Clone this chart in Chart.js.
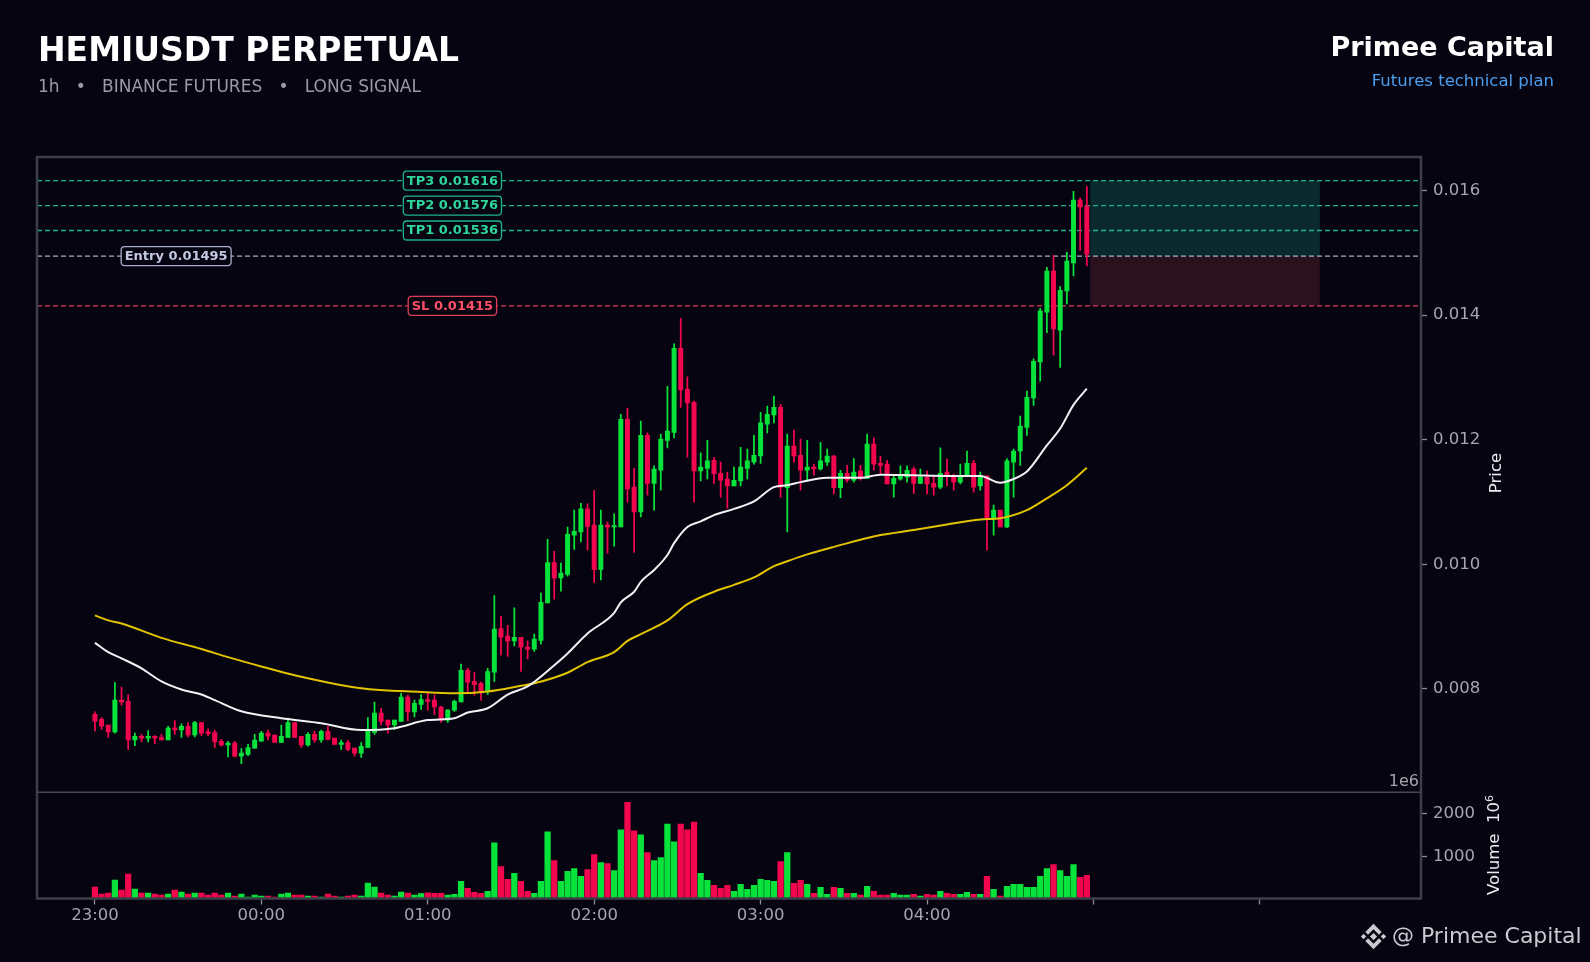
<!DOCTYPE html>
<html>
<head>
<meta charset="utf-8">
<script src="https://cdn.jsdelivr.net/npm/chart.js@4.4.1/dist/chart.umd.min.js"></script>
<style>
  body { margin: 0; background: #050410; }
  #wrap { position: relative; width: 1590px; height: 962px; overflow: hidden; font-family: 'DejaVu Sans', sans-serif; }
  #chart { position: absolute; left: 0; top: 0; }
  .txt { position: absolute; white-space: pre; }
</style>
</head>
<body>
<div id="wrap">
  <canvas id="chart" width="1590" height="962"></canvas>
  <div class="txt" style="left:38px;top:33px;font:bold 33px/33px 'DejaVu Sans';color:#ffffff">HEMIUSDT PERPETUAL</div>
  <div class="txt" style="left:38px;top:78px;font:17px/17px 'DejaVu Sans';color:#9b9ba5">1h   •   BINANCE FUTURES   •   LONG SIGNAL</div>
  <div class="txt" style="right:36px;top:33px;font:bold 27px/27px 'DejaVu Sans';color:#ffffff">Primee Capital</div>
  <div class="txt" style="right:36px;top:73px;font:16.5px/16.5px 'DejaVu Sans';color:#4c9eee">Futures technical plan</div>
  <div class="txt" style="left:1495px;top:473px;transform:translate(-50%,-50%) rotate(-90deg);font:16.5px 'DejaVu Sans';color:#ececf0">Price</div>
  <div class="txt" style="left:1493px;top:845px;transform:translate(-50%,-50%) rotate(-90deg);font:16.5px 'DejaVu Sans';color:#ececf0">Volume  10<sup style="font-size:11px">6</sup></div>
  <div class="txt" style="right:171px;top:773px;font:16px/16px 'DejaVu Sans';color:#a6a6ae">1e6</div>
  <svg style="position:absolute;left:1359px;top:922px" width="29" height="29" viewBox="0 0 32 32">
    <g fill="#c9c9d0">
      <path d="M16 2 L25 11 L22 14 L16 8 L10 14 L7 11 Z"/>
      <path d="M16 30 L7 21 L10 18 L16 24 L22 18 L25 21 Z"/>
      <path d="M16 12 L20 16 L16 20 L12 16 Z"/>
      <path d="M5 13 L8 16 L5 19 L2 16 Z"/>
      <path d="M27 13 L30 16 L27 19 L24 16 Z"/>
    </g>
  </svg>
  <div class="txt" style="left:1392px;top:925px;font:22px/22px 'DejaVu Sans';color:#c9c9d0">@ Primee Capital</div>
</div>
<script>
// candles, 25 per hour, first one at 23:00
const hourLabels = ['23:00', '00:00', '01:00', '02:00', '03:00', '04:00', '', ''];
const hourTicks = [0, 25, 50, 75, 100, 125, 150, 175];
const priceTicks = [0.008, 0.010, 0.012, 0.014, 0.016];
const volumeTicks = [1000, 2000];

const opens = [0.00759,0.00751,0.00742,0.00731,0.00782,0.00780,0.00718,0.00724,0.00721,0.00724,
 0.00722,0.00718,0.00737,0.00734,0.00740,0.00726,0.00746,0.00731,0.00730,0.00716,
 0.00710,0.00713,0.00692,0.00695,0.00705,0.00716,0.00729,0.00726,0.00714,0.00722,
 0.00746,0.00724,0.00710,0.00727,0.00718,0.00732,0.00721,0.00711,0.00714,0.00705,
 0.00697,0.00706,0.00730,0.00761,0.00750,0.00742,0.00748,0.00787,0.00763,0.00775,
 0.00783,0.00782,0.00771,0.00750,0.00766,0.00779,0.00830,0.00812,0.00809,0.00795,
 0.00827,0.00897,0.00885,0.00877,0.00883,0.00867,0.00864,0.00878,0.00938,0.01003,
 0.00978,0.00984,0.01047,0.01052,0.01089,0.01063,0.00992,0.01063,0.01060,0.01060,
 0.01233,0.01124,0.01084,0.01207,0.01130,0.01151,0.01199,0.01212,0.01347,0.01281,
 0.01260,0.01150,0.01154,0.01167,0.01146,0.01137,0.01126,0.01134,0.01154,0.01164,
 0.01174,0.01225,0.01240,0.01252,0.01123,0.01190,0.01175,0.01151,0.01156,0.01153,
 0.01164,0.01174,0.01123,0.01146,0.01135,0.01150,0.01138,0.01193,0.01162,0.01161,
 0.01129,0.01137,0.01140,0.01153,0.01130,0.01140,0.01130,0.01124,0.01148,0.01142,
 0.01132,0.01142,0.01162,0.01126,0.01142,0.01075,0.01087,0.01060,0.01164,0.01182,
 0.01220,0.01267,0.01325,0.01405,0.01471,0.01376,0.01439,0.01484,0.01585,0.01575];

const highs = [0.00763,0.00754,0.00742,0.00810,0.00803,0.00791,0.00729,0.00727,0.00733,0.00725,
 0.00727,0.00740,0.00749,0.00744,0.00746,0.00748,0.00746,0.00736,0.00734,0.00719,
 0.00716,0.00716,0.00704,0.00711,0.00727,0.00732,0.00734,0.00726,0.00742,0.00753,
 0.00746,0.00724,0.00730,0.00732,0.00734,0.00740,0.00721,0.00718,0.00718,0.00705,
 0.00714,0.00754,0.00779,0.00769,0.00750,0.00750,0.00793,0.00790,0.00782,0.00791,
 0.00793,0.00790,0.00772,0.00767,0.00782,0.00840,0.00833,0.00827,0.00811,0.00833,
 0.00950,0.00917,0.00902,0.00930,0.00883,0.00877,0.00888,0.00954,0.01040,0.01021,
 0.01002,0.01060,0.01087,0.01098,0.01097,0.01119,0.01087,0.01068,0.01081,0.01241,
 0.01251,0.01154,0.01230,0.01211,0.01158,0.01209,0.01286,0.01354,0.01395,0.01301,
 0.01262,0.01179,0.01199,0.01172,0.01164,0.01148,0.01156,0.01188,0.01185,0.01207,
 0.01244,0.01254,0.01270,0.01257,0.01209,0.01215,0.01201,0.01199,0.01161,0.01196,
 0.01185,0.01175,0.01151,0.01159,0.01170,0.01159,0.01209,0.01203,0.01174,0.01167,
 0.01142,0.01158,0.01158,0.01156,0.01153,0.01150,0.01140,0.01187,0.01169,0.01145,
 0.01161,0.01182,0.01167,0.01148,0.01142,0.01095,0.01087,0.01170,0.01185,0.01238,
 0.01278,0.01330,0.01411,0.01477,0.01496,0.01446,0.01501,0.01599,0.01588,0.01607];

const lows = [0.00732,0.00735,0.00722,0.00729,0.00774,0.00703,0.00709,0.00715,0.00715,0.00712,
 0.00718,0.00718,0.00727,0.00722,0.00723,0.00723,0.00725,0.00725,0.00706,0.00708,
 0.00691,0.00691,0.00680,0.00693,0.00705,0.00716,0.00718,0.00714,0.00714,0.00722,
 0.00722,0.00706,0.00708,0.00714,0.00714,0.00718,0.00711,0.00703,0.00701,0.00692,
 0.00690,0.00706,0.00727,0.00742,0.00729,0.00735,0.00748,0.00749,0.00755,0.00767,
 0.00766,0.00759,0.00746,0.00746,0.00764,0.00779,0.00795,0.00790,0.00782,0.00791,
 0.00812,0.00854,0.00852,0.00869,0.00828,0.00848,0.00860,0.00872,0.00938,0.00944,
 0.00957,0.00981,0.01024,0.01036,0.01023,0.00971,0.00975,0.01018,0.01029,0.01060,
 0.01100,0.01019,0.01076,0.01111,0.01087,0.01119,0.01187,0.01203,0.01252,0.01172,
 0.01100,0.01134,0.01137,0.01130,0.01108,0.01090,0.01126,0.01126,0.01137,0.01161,
 0.01162,0.01211,0.01227,0.01108,0.01052,0.01164,0.01119,0.01135,0.01143,0.01151,
 0.01159,0.01113,0.01107,0.01132,0.01132,0.01135,0.01138,0.01151,0.01145,0.01129,
 0.01108,0.01135,0.01132,0.01114,0.01130,0.01113,0.01111,0.01121,0.01126,0.01119,
 0.01129,0.01142,0.01116,0.01119,0.01023,0.01047,0.01060,0.01059,0.01108,0.01159,
 0.01207,0.01255,0.01294,0.01372,0.01336,0.01316,0.01418,0.01463,0.01504,0.01479];

const closes = [0.00748,0.00740,0.00731,0.00782,0.00779,0.00718,0.00724,0.00721,0.00724,0.00721,
 0.00718,0.00737,0.00734,0.00740,0.00726,0.00746,0.00729,0.00728,0.00715,0.00710,
 0.00713,0.00692,0.00697,0.00706,0.00718,0.00729,0.00724,0.00714,0.00724,0.00746,
 0.00722,0.00710,0.00727,0.00718,0.00732,0.00719,0.00711,0.00714,0.00703,0.00697,
 0.00708,0.00734,0.00761,0.00748,0.00742,0.00750,0.00787,0.00763,0.00777,0.00783,
 0.00780,0.00771,0.00750,0.00766,0.00780,0.00830,0.00811,0.00807,0.00796,0.00828,
 0.00896,0.00883,0.00877,0.00883,0.00867,0.00864,0.00880,0.00939,0.01003,0.00978,
 0.00986,0.01048,0.01053,0.01089,0.01061,0.00992,0.01063,0.01060,0.01061,0.01233,
 0.01121,0.01084,0.01207,0.01130,0.01153,0.01201,0.01214,0.01347,0.01280,0.01259,
 0.01150,0.01156,0.01166,0.01145,0.01135,0.01126,0.01135,0.01156,0.01166,0.01175,
 0.01227,0.01241,0.01252,0.01124,0.01190,0.01174,0.01151,0.01156,0.01153,0.01166,
 0.01174,0.01123,0.01146,0.01135,0.01148,0.01138,0.01193,0.01161,0.01159,0.01129,
 0.01138,0.01142,0.01151,0.01130,0.01140,0.01129,0.01124,0.01146,0.01142,0.01132,
 0.01142,0.01162,0.01124,0.01142,0.01075,0.01087,0.01060,0.01166,0.01182,0.01222,
 0.01268,0.01326,0.01407,0.01471,0.01378,0.01440,0.01487,0.01585,0.01574,0.01498];

// volume, in units of the axis (x1e6)
const volumes = [270,103,127,436,198,579,222,127,127,103,
 79,103,198,151,103,127,127,79,127,79,
 127,56,103,32,79,56,56,32,103,127,
 79,79,56,56,32,103,56,32,56,79,
 56,365,270,127,79,56,151,127,79,115,
 135,125,125,78,101,406,242,148,125,172,
 1318,757,452,593,406,172,125,406,1576,897,
 406,640,710,523,686,1037,850,827,663,1622,
 2278,1599,1505,1084,897,967,1763,1342,1763,1622,
 1810,593,429,312,242,312,172,335,218,312,
 452,429,406,874,1084,359,429,335,125,265,
 101,265,242,125,125,78,289,172,78,78,
 125,78,78,101,55,101,78,172,125,101,
 101,148,101,101,523,218,55,289,335,335,
 265,265,523,710,803,663,523,803,499,546];

// moving averages at these candle indexes
const fastMaIdx = [0,2,4,7,10,13,16,18,22,28,34,40,45,50,54,56,59,62,65,69,
 71,74,78,79,81,82,84,86,87,89,91,93,96,99,102,104,106,110,115,118,
 123,128,133,136,138,140,143,145,147,149];
const fastMa = [0.00874,0.00859,0.00849,0.00833,0.00812,0.00799,0.00791,0.00782,0.00764,0.00753,
 0.00745,0.00734,0.00737,0.00750,0.00753,0.00762,0.00769,0.00791,0.00804,0.00838,
 0.00857,0.00889,0.00922,0.00939,0.00956,0.00972,0.00991,0.01015,0.01034,0.01060,
 0.01069,0.01079,0.01089,0.01101,0.01124,0.01127,0.01132,0.01139,0.01139,0.01144,
 0.01143,0.01142,0.01142,0.01131,0.01137,0.01149,0.01191,0.01218,0.01256,0.01282];

const slowMaIdx = [0,2,4,10,16,20,25,30,40,49,54,59,64,66,71,74,78,80,82,86,
 89,93,96,99,102,104,107,111,118,123,128,133,136,140,143,146,149];
const slowMa = [0.00918,0.00910,0.00905,0.00882,0.00864,0.00851,0.00836,0.00822,0.00801,0.00795,
 0.00793,0.00796,0.00805,0.00809,0.00826,0.00843,0.00859,0.00877,0.00888,0.00910,
 0.00936,0.00956,0.00967,0.00979,0.00997,0.01005,0.01016,0.01028,0.01047,0.01055,
 0.01064,0.01072,0.01074,0.01087,0.01106,0.01127,0.01155];

const levelNames = ['TP3', 'TP2', 'TP1', 'Entry', 'SL'];
const levelValues = [0.01616, 0.01576, 0.01536, 0.01495, 0.01415];

const GREEN = '#08e33b';
const RED = '#f2074f';
const X_MIN = -8.7, X_MAX = 199.2;
const levelLine = ['#1fb48a', '#1fb48a', '#1fb48a', '#a9aecb', '#dc3f58'];
const levelText = ['#2fd69b', '#2fd69b', '#2fd69b', '#c3c7e2', '#ff5068'];
const labelAt = [53.7, 53.7, 53.7, 12.2, 53.7];
const zoneFrom = 149.5, zoneTo = 184;

const idx = closes.map((c, i) => i);
const candleColors = idx.map(i => closes[i] >= opens[i] ? GREEN : RED);

function roundBox(ctx, x, y, w, h, r) {
  ctx.beginPath();
  ctx.moveTo(x + r, y);
  ctx.lineTo(x + w - r, y);
  ctx.quadraticCurveTo(x + w, y, x + w, y + r);
  ctx.lineTo(x + w, y + h - r);
  ctx.quadraticCurveTo(x + w, y + h, x + w - r, y + h);
  ctx.lineTo(x + r, y + h);
  ctx.quadraticCurveTo(x, y + h, x, y + h - r);
  ctx.lineTo(x, y + r);
  ctx.quadraticCurveTo(x, y, x + r, y);
  ctx.closePath();
}

const planPlugin = {
  id: 'plan',
  beforeDatasetsDraw(chart) {
    const { ctx, scales: { x, y } } = chart;
    const x0 = x.getPixelForValue(zoneFrom);
    const x1 = x.getPixelForValue(zoneTo);
    const yTp = y.getPixelForValue(levelValues[0]);
    const yEntry = y.getPixelForValue(levelValues[3]);
    const ySl = y.getPixelForValue(levelValues[4]);
    ctx.save();
    ctx.fillStyle = '#0a2a2f';
    ctx.fillRect(x0, yTp, x1 - x0, yEntry - yTp);
    ctx.fillStyle = '#2b111e';
    ctx.fillRect(x0, yEntry, x1 - x0, ySl - yEntry);
    ctx.restore();
  },
  afterDatasetsDraw(chart) {
    const { ctx, scales: { x, y } } = chart;
    ctx.save();
    ctx.font = "bold 13px 'DejaVu Sans'";
    ctx.textAlign = 'center';
    ctx.textBaseline = 'middle';
    levelValues.forEach((v, k) => {
      const text = levelNames[k] + ' ' + v.toFixed(5);
      const cx = x.getPixelForValue(labelAt[k]);
      const cy = y.getPixelForValue(v);
      const w = ctx.measureText(text).width + 7;
      const h = 19;
      roundBox(ctx, cx - w / 2, cy - h / 2, w, h, 3.5);
      ctx.fillStyle = '#050410';
      ctx.fill();
      ctx.lineWidth = 1.3;
      ctx.strokeStyle = levelLine[k];
      ctx.stroke();
      ctx.fillStyle = levelText[k];
      ctx.fillText(text, cx, cy + 0.5);
    });
    ctx.restore();
  },
  afterDraw(chart) {
    const { ctx, chartArea: a, scales } = chart;
    ctx.save();
    ctx.strokeStyle = '#3c3f48';
    ctx.lineWidth = 2.5;
    ctx.strokeRect(a.left, a.top, a.right - a.left, a.bottom - a.top);
    ctx.strokeStyle = '#464954';
    ctx.lineWidth = 1.5;
    ctx.beginPath();
    ctx.moveTo(a.left, scales.yv.top);
    ctx.lineTo(a.right, scales.yv.top);
    ctx.stroke();
    ctx.restore();
  }
};

const tickFont = { family: 'DejaVu Sans', size: 16.5 };
const tickColor = '#a6a6ae';

const levelSets = levelValues.map((v, k) => ({
  type: 'line',
  data: [{ x: X_MIN, y: v }, { x: X_MAX, y: v }],
  borderColor: levelLine[k],
  borderWidth: 1.3,
  borderDash: [5, 3],
  pointRadius: 0,
  yAxisID: 'y',
  order: 10
}));

new Chart(document.getElementById('chart'), {
  type: 'bar',
  data: {
    datasets: [
      ...levelSets,
      {
        label: 'wick',
        data: idx.map(i => ({ x: i, y: [lows[i], highs[i]] })),
        backgroundColor: candleColors,
        barThickness: 1.1,
        grouped: false,
        yAxisID: 'y',
        order: 5
      },
      {
        label: 'body',
        data: idx.map(i => ({ x: i, y: [Math.min(opens[i], closes[i]), Math.max(opens[i], closes[i])] })),
        backgroundColor: candleColors,
        barThickness: 4.3,
        minBarLength: 1.5,
        grouped: false,
        yAxisID: 'y',
        order: 4
      },
      {
        label: 'volume',
        data: idx.map(i => ({ x: i, y: volumes[i] })),
        backgroundColor: candleColors,
        barThickness: 5.6,
        grouped: false,
        yAxisID: 'yv',
        order: 4
      },
      {
        type: 'line',
        label: 'slow',
        data: slowMaIdx.map((x, k) => ({ x: x, y: slowMa[k] })),
        borderColor: '#e2c300',
        borderWidth: 2,
        pointRadius: 0,
        cubicInterpolationMode: 'monotone',
        yAxisID: 'y',
        order: 2
      },
      {
        type: 'line',
        label: 'fast',
        data: fastMaIdx.map((x, k) => ({ x: x, y: fastMa[k] })),
        borderColor: '#f2f2f4',
        borderWidth: 2,
        pointRadius: 0,
        cubicInterpolationMode: 'monotone',
        yAxisID: 'y',
        order: 1
      }
    ]
  },
  options: {
    responsive: false,
    animation: false,
    events: [],
    layout: { padding: { left: 37, top: 157, right: 0, bottom: 0 } },
    plugins: { legend: { display: false }, tooltip: { enabled: false } },
    scales: {
      x: {
        type: 'linear',
        min: X_MIN,
        max: X_MAX,
        offset: false,
        afterBuildTicks: s => { s.ticks = hourTicks.map(v => ({ value: v })); },
        afterFit: s => { s.height = 962 - 898.5; },
        ticks: {
          callback: (v, k) => hourLabels[k],
          autoSkip: false,
          maxRotation: 0,
          color: tickColor,
          font: tickFont,
          padding: 1
        },
        grid: { drawOnChartArea: false, offset: false, tickLength: 6, tickColor: '#8b8e97', tickWidth: 1.3 },
        border: { display: false }
      },
      y: {
        type: 'linear',
        position: 'right',
        stack: 'panels',
        stackWeight: 635.3,
        min: 0.00634,
        max: 0.01654,
        beginAtZero: false,
        afterBuildTicks: s => { s.ticks = priceTicks.map(v => ({ value: v })); },
        afterFit: s => { s.width = 1590 - 1421; },
        ticks: { callback: v => v.toFixed(3), color: tickColor, font: tickFont, padding: 6 },
        grid: { drawOnChartArea: false, tickLength: 6, tickColor: '#8b8e97', tickWidth: 1.3 },
        border: { display: false }
      },
      yv: {
        type: 'linear',
        position: 'right',
        stack: 'panels',
        stackWeight: 106.2,
        min: 0,
        max: 2513,
        afterBuildTicks: s => { s.ticks = volumeTicks.map(v => ({ value: v })); },
        afterFit: s => { s.width = 1590 - 1421; },
        ticks: { callback: v => String(v), color: tickColor, font: tickFont, padding: 6 },
        grid: { drawOnChartArea: false, tickLength: 6, tickColor: '#8b8e97', tickWidth: 1.3 },
        border: { display: false }
      }
    }
  },
  plugins: [planPlugin]
});
</script>
</body>
</html>
